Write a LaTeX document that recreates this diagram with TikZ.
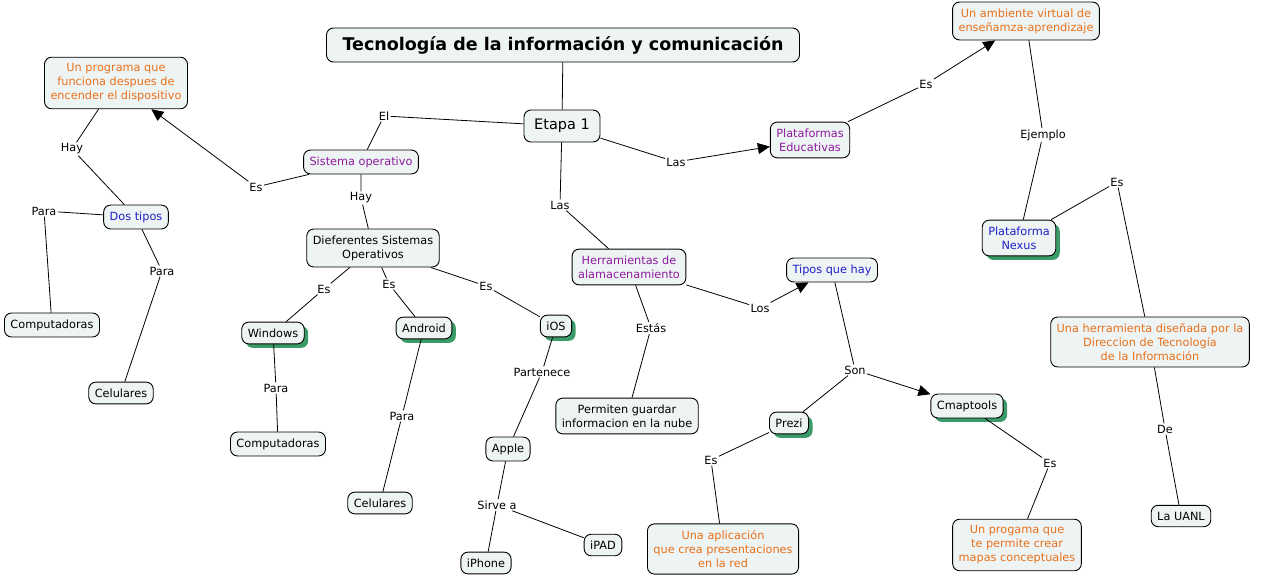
\documentclass[tikz,border=0pt]{standalone}
\usepackage{fontspec}
\setmainfont{DejaVu Sans}
\usetikzlibrary{shadows,arrows.meta}
\definecolor{cfill}{HTML}{EEF4F4}
\definecolor{corange}{HTML}{E8701A}
\definecolor{cpurple}{HTML}{8E1A9E}
\definecolor{cblue}{HTML}{2020C8}
\definecolor{cshadow}{HTML}{3A9A68}
\begin{document}
\begin{tikzpicture}[x=1pt,y=-1pt,
  c/.style={draw=black,fill=cfill,rounded corners=7pt,font=\fontsize{11.3}{14}\selectfont,align=center,inner xsep=6pt,inner ysep=6.5pt,line width=0.9pt},
  sh/.style={c,drop shadow={fill=cshadow,opacity=1,shadow xshift=4pt,shadow yshift=-4pt}},
  l/.style={fill=white,inner sep=1pt,font=\fontsize{11.3}{14}\selectfont},
  a/.style={-{Triangle[length=12pt,width=11pt]}},
  every path/.style={line width=0.8pt}]
\useasboundingbox (0,0) rectangle (1262,580);
% concepts
\node[c,minimum width=473,minimum height=34,font=\fontsize{17.5}{20}\selectfont\bfseries] (title) at (563,45) {Tecnología de la información y comunicación};
\node[c,minimum width=76,minimum height=32,font=\fontsize{14.5}{17}\selectfont] (etapa) at (562,126) {Etapa 1};
\node[c,text=corange] (prog) at (116,83) {Un programa que\\funciona despues de\\encender el dispositivo};
\node[c,text=cpurple] (so) at (361,162) {Sistema operativo};
\node[c,text=cblue] (dos) at (136,217) {Dos tipos};
\node[c,text=cpurple] (plat) at (810,140) {Plataformas\\Educativas};
\node[c,text=corange] (amb) at (1026,21) {Un ambiente virtual de\\enseñamza-aprendizaje};
\node[sh,text=cblue] (nexus) at (1019,238) {Plataforma\\Nexus};
\node[c,text=cpurple] (herr) at (629,267) {Herramientas de\\alamacenamiento};
\node[c,text=cblue] (tipos) at (832,270) {Tipos que hay};
\node[c] (difsis) at (373,248) {Dieferentes Sistemas\\Operativos};
\node[sh] (win) at (273,333) {Windows};
\node[sh] (and) at (424,328) {Android};
\node[sh] (ios) at (556,326) {iOS};
\node[c] (comp1) at (52,325) {Computadoras};
\node[c] (cel1) at (121,393) {Celulares};
\node[c] (comp2) at (278,444) {Computadoras};
\node[c] (cel2) at (380,503) {Celulares};
\node[c] (apple) at (508,449) {Apple};
\node[c] (iphone) at (486,563) {iPhone};
\node[c] (ipad) at (603,545) {iPAD};
\node[c] (guar) at (627,416) {Permiten guardar\\informacion en la nube};
\node[sh] (prezi) at (789,423) {Prezi};
\node[sh] (cmap) at (967,406) {Cmaptools};
\node[c,text=corange] (aplic) at (723,549) {Una aplicación\\que crea presentaciones\\en la red};
\node[c,text=corange] (proga) at (1017,545) {Un progama que\\te permite crear\\mapas conceptuales};
\node[c,text=corange] (hdis) at (1150,342) {Una herramienta diseñada por la\\Direccion de Tecnología\\de la Información};
\node[c] (uanl) at (1181,516) {La UANL};
% link labels
\node[l] (lEl) at (384,116) {El};
\node[l] (lEs1) at (256,187) {Es};
\node[l] (lHay1) at (72,149) {Hay};
\node[l] (lPara1) at (44,211) {Para};
\node[l] (lPara2) at (162,271) {Para};
\node[l] (lHay2) at (361,198) {Hay};
\node[l] (lEsW) at (324,289) {Es};
\node[l] (lEsA) at (389,284) {Es};
\node[l] (lEsI) at (486,286) {Es};
\node[l] (lParaW) at (276,388) {Para};
\node[l] (lParaA) at (402,416) {Para};
\node[l] (lPart) at (542,372) {Partenece};
\node[l] (lSirve) at (497,505) {Sirve a};
\node[l] (lLas1) at (560,205) {Las};
\node[l] (lLas2) at (676,162) {Las};
\node[l] (lEsP) at (926,84) {Es};
\node[l] (lEj) at (1043,135) {Ejemplo};
\node[l] (lEsN) at (1117,182) {Es};
\node[l] (lEst) at (651,328) {Estás};
\node[l] (lLos) at (760,308) {Los};
\node[l] (lSon) at (855,370) {Son};
\node[l] (lEsPr) at (711,460) {Es};
\node[l] (lEsC) at (1050,463) {Es};
\node[l] (lDe) at (1165,429) {De};
% connectors
\draw (title) -- (etapa);
\draw (etapa) -- (lEl) -- (so);
\draw (so) -- (lEs1); \draw[a] (lEs1) -- (prog);
\draw (so) -- (lHay2) -- (difsis);
\draw (prog) -- (lHay1) -- (dos);
\draw (dos) -- (lPara1) -- (comp1);
\draw (dos) -- (lPara2) -- (cel1);
\draw (difsis) -- (lEsW) -- (win);
\draw (difsis) -- (lEsA) -- (and);
\draw (difsis) -- (lEsI) -- (ios);
\draw (win) -- (lParaW) -- (comp2);
\draw (and) -- (lParaA) -- (cel2);
\draw (ios) -- (lPart) -- (apple);
\draw (apple) -- (lSirve) -- (iphone);
\draw (lSirve) -- (ipad);
\draw (etapa) -- (lLas1) -- (herr);
\draw (etapa) -- (lLas2); \draw[a] (lLas2) -- (plat);
\draw (plat) -- (lEsP); \draw[a] (lEsP) -- (amb);
\draw (amb) -- (lEj) -- (nexus);
\draw (nexus) -- (lEsN) -- (hdis);
\draw (hdis) -- (lDe) -- (uanl);
\draw (herr) -- (lEst) -- (guar);
\draw (herr) -- (lLos); \draw[a] (lLos) -- (tipos);
\draw (tipos) -- (lSon) -- (prezi);
\draw[a] (lSon) -- (cmap);
\draw (prezi) -- (lEsPr) -- (aplic);
\draw (cmap) -- (lEsC) -- (proga);
\end{tikzpicture}
\end{document}
